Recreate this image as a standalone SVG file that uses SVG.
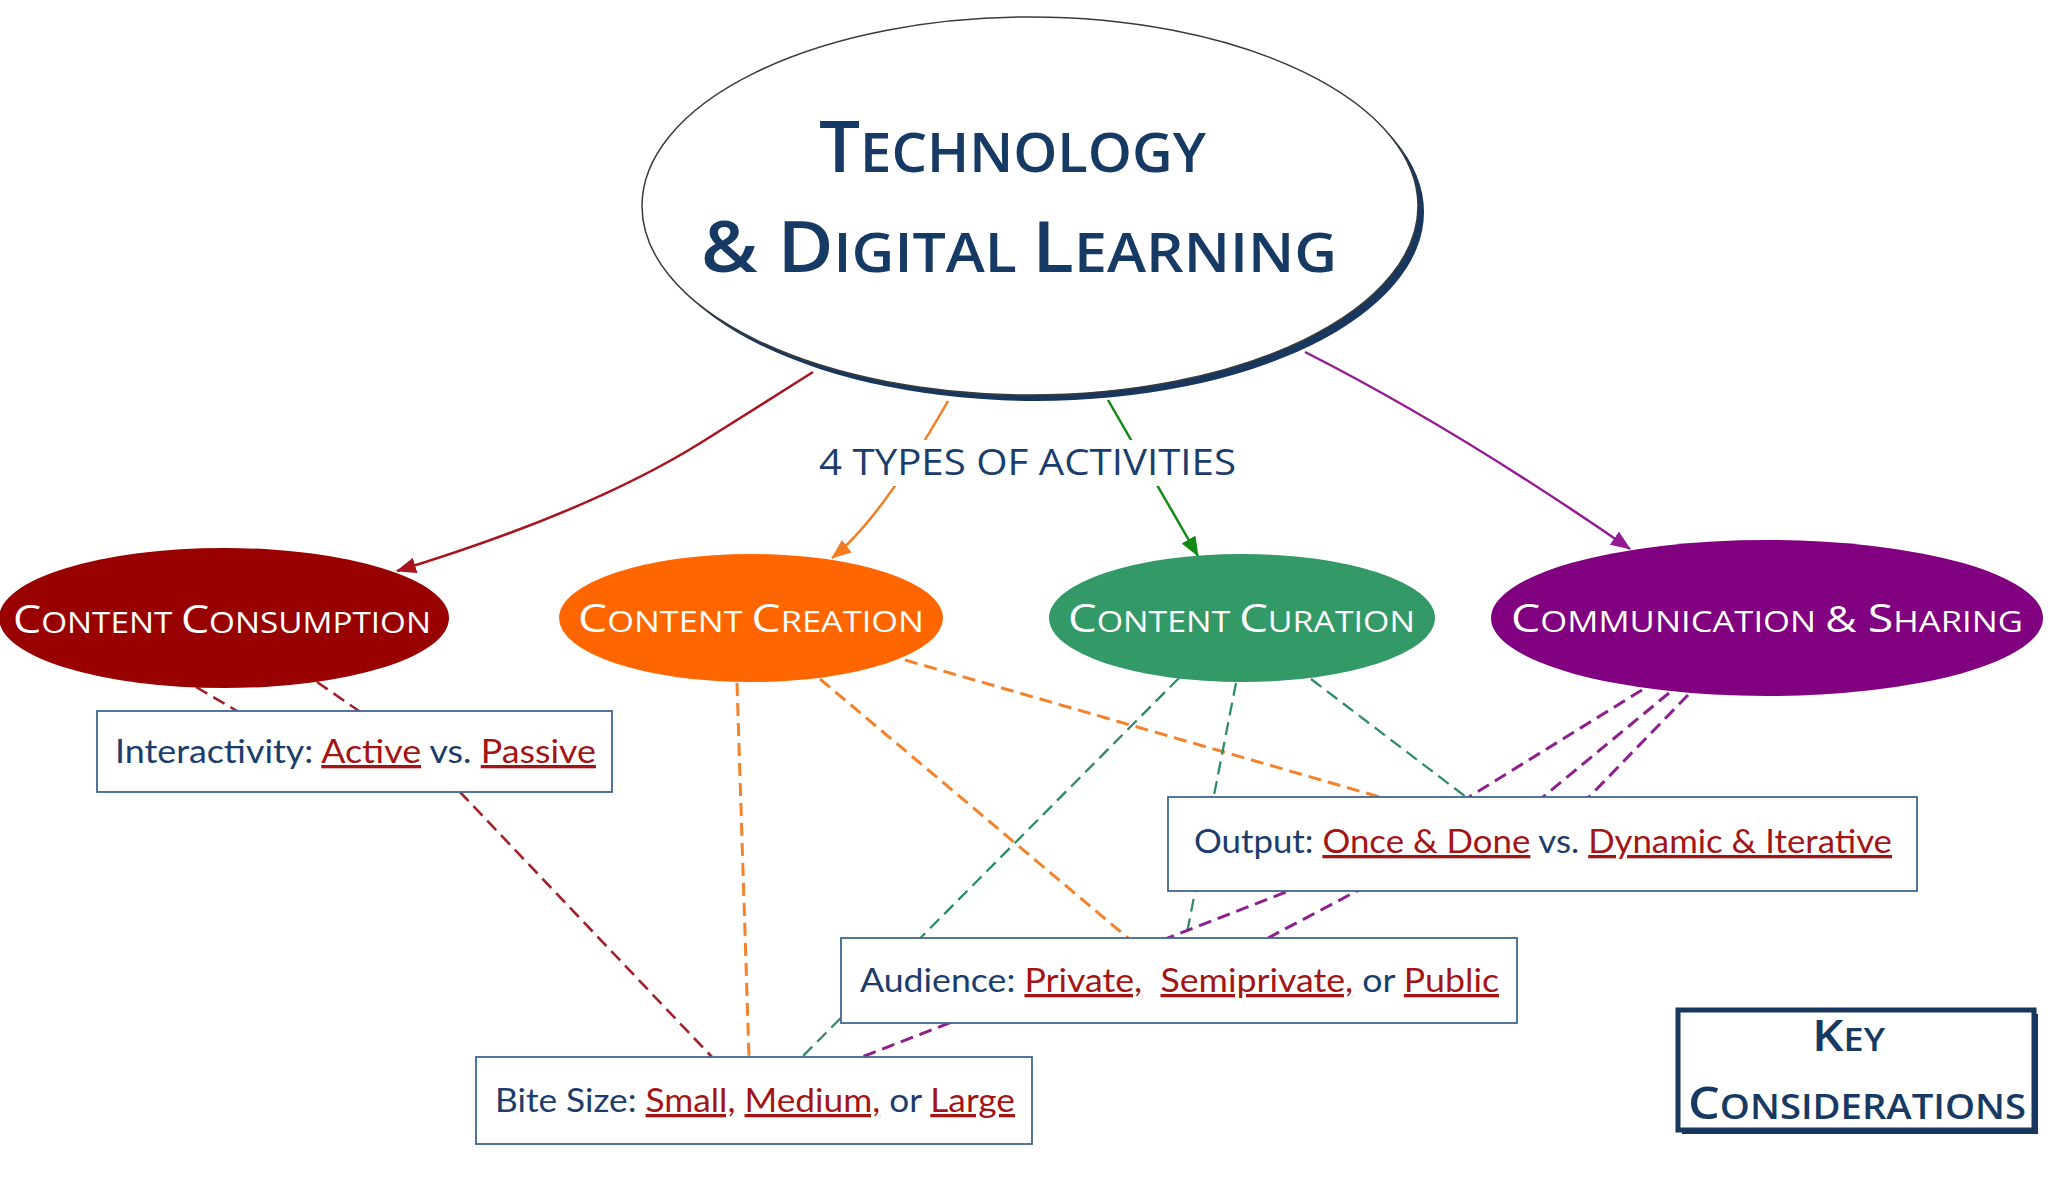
<svg xmlns="http://www.w3.org/2000/svg" width="2048" height="1192" viewBox="0 0 2048 1192">
  <style>
    .hand { font-family: "Open Sans", "DejaVu Sans", sans-serif; }
    .title { fill: #173A64; font-weight: 600; }
    .box-text { font-family: "Lato", "Noto Sans", sans-serif; font-size: 33px; }
    .lbl { fill: #1B3D6B; }
    .val { fill: #A31515; text-decoration: underline; }
    .box { fill: #ffffff; stroke: #41668F; stroke-width: 1.8; }
    .dash { fill: none; stroke-dasharray: 13 7; }
    .solid { fill: none; stroke-width: 2.5; }
    .node-text { fill: #ffffff; font-weight: 500; }
  </style>
  <defs>
    <marker id="arr-red" markerUnits="userSpaceOnUse" markerWidth="20" markerHeight="16" refX="19" refY="8" orient="auto">
      <path d="M0,0 L20,8 L0,16 z" fill="#A8141E"/>
    </marker>
    <marker id="arr-orange" markerUnits="userSpaceOnUse" markerWidth="20" markerHeight="16" refX="19" refY="8" orient="auto">
      <path d="M0,0 L20,8 L0,16 z" fill="#F47B20"/>
    </marker>
    <marker id="arr-green" markerUnits="userSpaceOnUse" markerWidth="20" markerHeight="16" refX="19" refY="8" orient="auto">
      <path d="M0,0 L20,8 L0,16 z" fill="#138A13"/>
    </marker>
    <marker id="arr-purple" markerUnits="userSpaceOnUse" markerWidth="20" markerHeight="16" refX="19" refY="8" orient="auto">
      <path d="M0,0 L20,8 L0,16 z" fill="#951B95"/>
    </marker>
  </defs>
  <rect x="0" y="0" width="2048" height="1192" fill="#ffffff"/>

  <g id="connectors">
    <!-- solid arrows from main topic -->
    <path class="solid" d="M813,372 L702,442 Q590,512 397,571" stroke="#A8141E" marker-end="url(#arr-red)"/>
    <path class="solid" d="M948,401 Q880,520 832,558" stroke="#F47B20" marker-end="url(#arr-orange)"/>
    <path class="solid" d="M1108,400 L1198,556" stroke="#138A13" marker-end="url(#arr-green)"/>
    <path class="solid" d="M1305,352 Q1455,428 1630,549" stroke="#951B95" marker-end="url(#arr-purple)"/>

    <!-- dashed relations: red -->
    <path class="dash" d="M196,687 L237,711" stroke="#A3202B" stroke-width="2.6"/>
    <path class="dash" d="M317,682 L359,711 L460,792 L712,1057" stroke="#A3202B" stroke-width="2.6"/>
    <!-- orange -->
    <path class="dash" d="M737,683 L749,1057" stroke="#F5822A" stroke-width="3"/>
    <path class="dash" d="M820,679 L1128,938" stroke="#F5822A" stroke-width="3"/>
    <path class="dash" d="M905,660 L1380,797" stroke="#F5822A" stroke-width="3"/>
    <!-- green -->
    <path class="dash" d="M1179,678 L802,1057" stroke="#2E8B65" stroke-width="2.3"/>
    <path class="dash" d="M1236,683 L1186,938" stroke="#2E8B65" stroke-width="2.3"/>
    <path class="dash" d="M1311,679 L1466,797" stroke="#2E8B65" stroke-width="2.3"/>
    <!-- purple -->
    <path class="dash" d="M1642,690 L1469,797" stroke="#8E1F8E" stroke-width="3"/>
    <path class="dash" d="M1669,693 L1543,797 L1355,892 L1268,938" stroke="#8E1F8E" stroke-width="3"/>
    <path class="dash" d="M1688,695 L1589,797 L1286,892 L862,1057" stroke="#8E1F8E" stroke-width="3"/>
  </g>

  <g id="label-types">
    <rect x="805" y="440" width="445" height="46" fill="#ffffff"/>
    <text class="hand" x="819" y="475" font-size="37" fill="#1B3D6B" textLength="417" lengthAdjust="spacingAndGlyphs">4 TYPES OF ACTIVITIES</text>
  </g>

  <g id="node-main">
    <ellipse cx="1036" cy="212" rx="388" ry="189" fill="#17375E"/>
    <ellipse cx="1030" cy="206" rx="388" ry="189" fill="#ffffff" stroke="#3a3a3a" stroke-width="1.5"/>
    <text class="hand title" x="819" y="172" textLength="387" lengthAdjust="spacingAndGlyphs"><tspan font-size="70">T</tspan><tspan font-size="54">ECHNOLOGY</tspan></text>
    <text class="hand title" x="701" y="272" textLength="636" lengthAdjust="spacingAndGlyphs"><tspan font-size="70">&amp; D</tspan><tspan font-size="54">IGITAL </tspan><tspan font-size="70">L</tspan><tspan font-size="54">EARNING</tspan></text>
  </g>

  <g id="node-consumption">
    <ellipse cx="224" cy="618" rx="225" ry="70" fill="#990000"/>
    <text class="hand node-text" x="13" y="633" textLength="418" lengthAdjust="spacingAndGlyphs"><tspan font-size="39">C</tspan><tspan font-size="29">ONTENT </tspan><tspan font-size="39">C</tspan><tspan font-size="29">ONSUMPTION</tspan></text>
  </g>

  <g id="node-creation">
    <ellipse cx="751" cy="618" rx="192" ry="64" fill="#FF6600"/>
    <text class="hand node-text" x="578" y="632" textLength="346" lengthAdjust="spacingAndGlyphs"><tspan font-size="39">C</tspan><tspan font-size="29">ONTENT </tspan><tspan font-size="39">C</tspan><tspan font-size="29">REATION</tspan></text>
  </g>

  <g id="node-curation">
    <ellipse cx="1242" cy="618" rx="193" ry="64" fill="#339966"/>
    <text class="hand node-text" x="1068" y="632" textLength="347" lengthAdjust="spacingAndGlyphs"><tspan font-size="39">C</tspan><tspan font-size="29">ONTENT </tspan><tspan font-size="39">C</tspan><tspan font-size="29">URATION</tspan></text>
  </g>

  <g id="node-communication">
    <ellipse cx="1767" cy="618" rx="276" ry="78" fill="#800080"/>
    <text class="hand node-text" x="1511" y="632" textLength="512" lengthAdjust="spacingAndGlyphs"><tspan font-size="39">C</tspan><tspan font-size="29">OMMUNICATION </tspan><tspan font-size="36">&amp; </tspan><tspan font-size="39">S</tspan><tspan font-size="29">HARING</tspan></text>
  </g>

  <g id="box-interactivity">
    <rect class="box" x="97" y="711" width="515" height="81"/>
    <text class="box-text" x="115" y="763" textLength="481" lengthAdjust="spacingAndGlyphs"><tspan class="lbl">Interactivity: </tspan><tspan class="val">Active</tspan><tspan class="lbl"> vs. </tspan><tspan class="val">Passive</tspan></text>
  </g>

  <g id="box-output">
    <rect class="box" x="1168" y="797" width="749" height="94"/>
    <text class="box-text" x="1194" y="853" textLength="698" lengthAdjust="spacingAndGlyphs"><tspan class="lbl">Output: </tspan><tspan class="val">Once &amp; Done</tspan><tspan class="lbl"> vs. </tspan><tspan class="val">Dynamic &amp; Iterative</tspan></text>
  </g>

  <g id="box-audience">
    <rect class="box" x="841" y="938" width="676" height="85"/>
    <text class="box-text" x="860" y="992" textLength="639" lengthAdjust="spacingAndGlyphs" xml:space="preserve"><tspan class="lbl">Audience: </tspan><tspan class="val">Private,</tspan><tspan class="lbl">  </tspan><tspan class="val">Semiprivate,</tspan><tspan class="lbl"> or </tspan><tspan class="val">Public</tspan></text>
  </g>

  <g id="box-bitesize">
    <rect class="box" x="476" y="1057" width="556" height="87"/>
    <text class="box-text" x="495" y="1112" textLength="520" lengthAdjust="spacingAndGlyphs"><tspan class="lbl">Bite Size: </tspan><tspan class="val">Small,</tspan><tspan class="lbl"> </tspan><tspan class="val">Medium,</tspan><tspan class="lbl"> or </tspan><tspan class="val">Large</tspan></text>
  </g>

  <g id="key-considerations">
    <rect x="1682" y="1014" width="356" height="120" fill="#17375E"/>
    <rect x="1678" y="1010" width="356" height="120" fill="#ffffff" stroke="#17375E" stroke-width="5"/>
    <text class="hand title" x="1812" y="1051" textLength="73" lengthAdjust="spacingAndGlyphs"><tspan font-size="44">K</tspan><tspan font-size="32">EY</tspan></text>
    <text class="hand title" x="1688" y="1119" textLength="338" lengthAdjust="spacingAndGlyphs"><tspan font-size="46">C</tspan><tspan font-size="35">ONSIDERATIONS</tspan></text>
  </g>
</svg>
